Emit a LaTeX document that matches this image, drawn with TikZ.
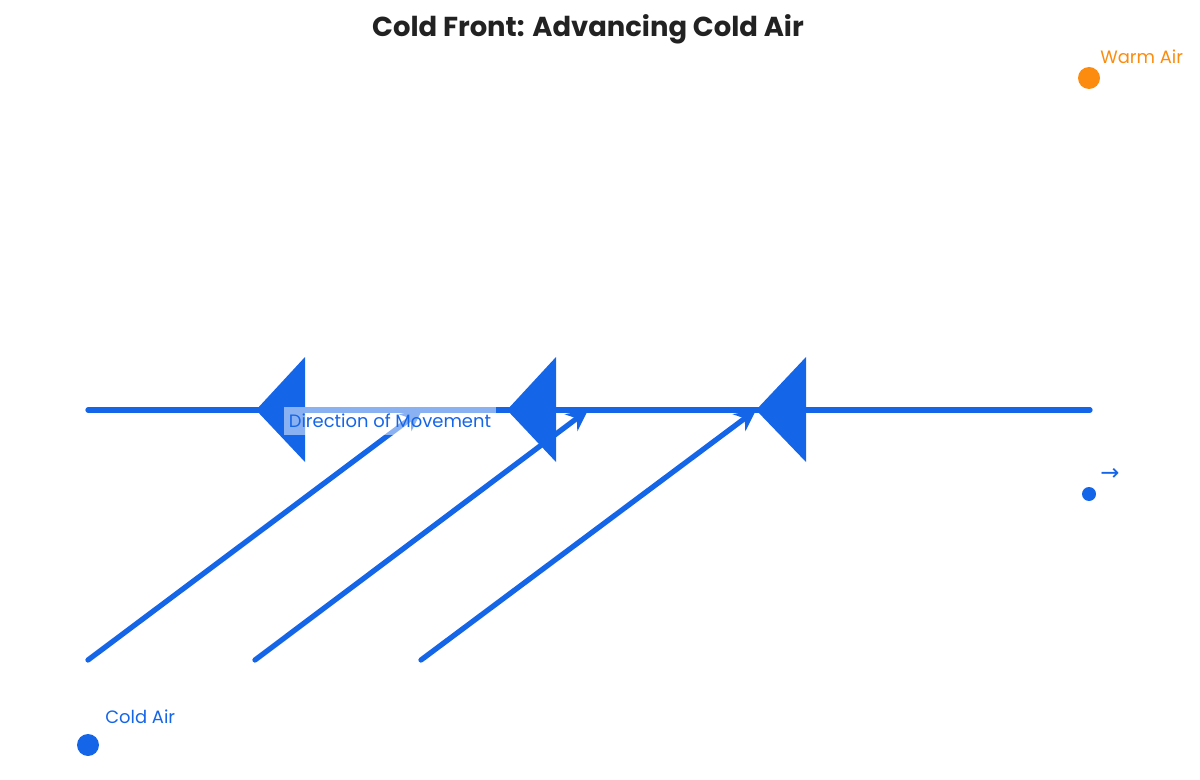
\documentclass[tikz,border=0pt]{standalone}
\usepackage{fontspec}
\setmainfont{Poppins}
\newfontfamily\djv{DejaVu Sans}
\usetikzlibrary{arrows.meta}
\definecolor{cblue}{HTML}{1565E8}
\definecolor{corange}{HTML}{FB8C0F}
\definecolor{ctitle}{HTML}{222222}
\tikzset{
  frontline/.style={cblue,line width=3pt,line cap=round},
  flow/.style={cblue,line width=3pt,line cap=round,-{Stealth[length=12pt,width=12pt,inset=4pt]}},
  dotc/.style={circle,fill=#1,inner sep=0pt},
  lbl/.style={font=\fontsize{10.2}{12}\selectfont,inner sep=0pt}
}
\begin{document}
\begin{tikzpicture}[x=0.02cm,y=-0.02cm]
\useasboundingbox (0,0) rectangle (1200,780);
\node[font=\fontsize{15.6}{19}\selectfont\bfseries,text=ctitle] (title) at (588,29) {Cold Front: Advancing Cold Air};
\coordinate (fl) at (88,410); \coordinate (fr) at (1090,410);
\draw[frontline] (fl) -- (fr);
\foreach \a/\b in {256/305,507/556,756/806}{
  \fill[cblue] (\a,410) -- (\b,357) -- (\b,462) -- cycle;
}
\coordinate (s1) at (88,660); \coordinate (e1) at (422,410);
\coordinate (s2) at (255,660); \coordinate (e2) at (588,410);
\coordinate (s3) at (421,660); \coordinate (e3) at (756,410);
\draw[flow] (s1) -- (e1);
\draw[flow] (s2) -- (e2);
\draw[flow] (s3) -- (e3);
\node[lbl,text=cblue,fill=white,fill opacity=0.5,text opacity=1,inner xsep=3pt,inner ysep=4pt] (dir) at (390,421) {Direction of Movement};
\node[dotc=cblue,minimum size=22*0.02cm] (cold) at (88,745) {};
\node[lbl,text=cblue,anchor=west] (coldl) at (105,717) {Cold Air};
\node[dotc=corange,minimum size=22*0.02cm] (warm) at (1089,78) {};
\node[lbl,text=corange,anchor=west] (warml) at (1100,57) {Warm Air};
\node[dotc=cblue,minimum size=14*0.02cm] (small) at (1089,494) {};
\node[lbl,text=cblue,anchor=west] (arr) at (1100,474) {\djv\fontsize{13}{14}\selectfont →};
\end{tikzpicture}
\end{document}
